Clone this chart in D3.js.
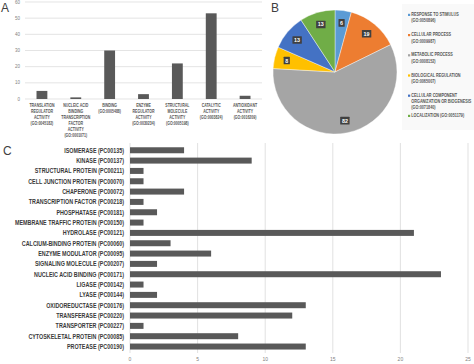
<!DOCTYPE html>
<html><head><meta charset="utf-8">
<script src="https://cdn.jsdelivr.net/npm/d3@7"></script>
<style>
html,body{margin:0;padding:0;background:#fff;}
svg{display:block;}
text{font-family:'Liberation Sans',Arial,sans-serif;}
</style></head><body>
<svg id="chart" width="474" height="364"></svg>
<script>
// ---- Panel A data ----
const goCategories = [
  "TRANSLATION\nREGULATOR\nACTIVITY\n(GO:0045182)",
  "NUCLEIC ACID\nBINDING\nTRANSCRIPTION\nFACTOR\nACTIVITY\n(GO:0001071)",
  "BINDING\n(GO:0005488)",
  "ENZYME\nREGULATOR\nACTIVITY\n(GO:0030234)",
  "STRUCTURAL\nMOLECULE\nACTIVITY\n(GO:0005198)",
  "CATALYTIC\nACTIVITY\n(GO:0003824)",
  "ANTIOXIDANT\nACTIVITY\n(GO:0016209)"
];
const goValues = [5, 1, 30, 3, 22, 53, 2];
const goTicks = [0, 10, 20, 30, 40, 50, 60];

// ---- Panel B data ----
const bpLabels = [
  "RESPONSE TO STIMULUS\n(GO:0050896)",
  "CELLULAR PROCESS\n(GO:0009987)",
  "METABOLIC PROCESS\n(GO:0008152)",
  "BIOLOGICAL REGULATION\n(GO:0065007)",
  "CELLULAR COMPONENT\nORGANIZATION OR BIOGENESIS\n(GO:0071840)",
  "LOCALIZATION (GO:0051179)"
];
const bpValues = [6, 19, 82, 8, 13, 13];
const bpColors = ["#5B9BD5", "#ED7D31", "#A5A5A5", "#FFC000", "#4472C4", "#70AD47"];

// ---- Panel C data ----
const pcCategories = [
  "ISOMERASE (PC00135)", "KINASE (PC00137)", "STRUCTURAL PROTEIN (PC00211)",
  "CELL JUNCTION PROTEIN (PC00070)", "CHAPERONE (PC00072)", "TRANSCRIPTION FACTOR (PC00218)",
  "PHOSPHATASE (PC00181)", "MEMBRANE TRAFFIC PROTEIN (PC00150)", "HYDROLASE (PC00121)",
  "CALCIUM-BINDING PROTEIN (PC00060)", "ENZYME MODULATOR (PC00095)", "SIGNALING MOLECULE (PC00207)",
  "NUCLEIC ACID BINDING (PC00171)", "LIGASE (PC00142)", "LYASE (PC00144)",
  "OXIDOREDUCTASE (PC00176)", "TRANSFERASE (PC00220)", "TRANSPORTER (PC00227)",
  "CYTOSKELETAL PROTEIN (PC00085)", "PROTEASE (PC00190)"
];
const pcValues = [4, 9, 1, 1, 4, 1, 2, 1, 21, 3, 6, 2, 23, 1, 2, 13, 12, 1, 8, 13];
const pcTicks = [0, 5, 10, 15, 20, 25];

const svg = d3.select("#chart");
const barColor = "#595959";
const gridColor = "#d9d9d9";

// horizontally condense text so a reference string would have the target width
function condense(sel, refText, refWidth) {
  const probe = svg.append("text").attr("font-size", sel.attr("font-size"))
    .attr("font-weight", sel.attr("font-weight")).text(refText);
  const k = refWidth / probe.node().getComputedTextLength();
  probe.remove();
  sel.each(function () {
    const w = this.getComputedTextLength();
    d3.select(this).attr("textLength", w * k).attr("lengthAdjust", "spacingAndGlyphs");
  });
}
const panelLetter = (t, x, y) => svg.append("text").attr("x", x).attr("y", y)
  .attr("font-size", 12).attr("fill", "#404040").text(t);

// ================= Panel A =================
panelLetter("A", 1, 12);
const xA = d3.scaleBand().domain(goCategories).range([25, 262]).paddingInner(0.68).paddingOuter(0.34);
const yA = d3.scaleLinear().domain([0, 60]).range([99, 2]);
const gA = svg.append("g");
gA.selectAll("line.grid").data(goTicks).join("line")
  .attr("x1", 25).attr("x2", 262).attr("y1", d => yA(d)).attr("y2", d => yA(d))
  .attr("stroke", gridColor).attr("stroke-width", 0.7);
gA.selectAll("text.tick").data(goTicks).join("text")
  .attr("x", 20).attr("y", d => yA(d) + 1.5).attr("text-anchor", "end")
  .attr("font-size", 4.5).attr("fill", "#7f7f7f").text(d => d);
gA.selectAll("rect").data(goValues).join("rect")
  .attr("x", (d, i) => xA(goCategories[i])).attr("width", xA.bandwidth())
  .attr("y", d => yA(d)).attr("height", d => yA(0) - yA(d))
  .attr("fill", barColor);
const aLines = [];
goCategories.forEach(c => c.split("\n").forEach((ln, j) => aLines.push({ c, ln, j })));
const aText = gA.selectAll("text.cat").data(aLines).join("text").attr("class", "cat")
  .attr("x", d => xA(d.c) + xA.bandwidth() / 2).attr("y", d => 106.5 + d.j * 6)
  .attr("text-anchor", "middle").attr("font-size", 5.1).attr("font-weight", "bold")
  .attr("fill", "#555").text(d => d.ln);
condense(aText, "TRANSCRIPTION", 29);

// ================= Panel B =================
panelLetter("B", 271, 12);
svg.append("rect").attr("x", 402).attr("y", 4).attr("width", 72).attr("height", 126).attr("fill", "#f9f9f9");
const cx = 335, cy = 72, r = 62;
const pie = d3.pie().sort(null).value(d => d)(bpValues);
const arc = d3.arc().innerRadius(0).outerRadius(r);
const labelArc = d3.arc().innerRadius(r * 0.8).outerRadius(r * 0.8);
const gB = svg.append("g").attr("transform", `translate(${cx},${cy})`);
gB.selectAll("path").data(pie).join("path").attr("d", arc)
  .attr("fill", (d, i) => bpColors[i]).attr("stroke", "#fff").attr("stroke-width", 0.4);
pie.forEach(p => {
  const [lx, ly] = labelArc.centroid(p);
  const g = gB.append("g").attr("transform", `translate(${lx},${ly})`);
  const txt = String(p.data);
  const w = txt.length * 3.2 + 3;
  g.append("rect").attr("x", -w / 2).attr("y", -3.8).attr("width", w).attr("height", 7.6)
    .attr("fill", "#404040").attr("rx", 0.5);
  g.append("text").attr("text-anchor", "middle").attr("y", 2).attr("font-size", 5.4)
    .attr("font-weight", "bold").attr("fill", "#fff").text(txt);
});
const gL = svg.append("g");
const lLines = [];
bpLabels.forEach((lab, i) => {
  const y0 = 16 + i * 20.2;
  gL.append("rect").attr("x", 408).attr("y", y0 - 2.2).attr("width", 2.2).attr("height", 2.2).attr("fill", bpColors[i]);
  lab.split("\n").forEach((ln, j) => lLines.push({ ln, y: y0 + j * 6.3 }));
});
const lText = gL.selectAll("text").data(lLines).join("text")
  .attr("x", 411.3).attr("y", d => d.y).attr("font-size", 5.1).attr("font-weight", "bold")
  .attr("fill", "#555").text(d => d.ln);
condense(lText, "ORGANIZATION OR BIOGENESIS", 60);

// ================= Panel C =================
panelLetter("C", 3, 155);
const xC = d3.scaleLinear().domain([0, 25]).range([130, 468]);
const yC = d3.scaleBand().domain(pcCategories).range([145.1, 351.7]).paddingInner(0.42).paddingOuter(0.21);
const gC = svg.append("g");
gC.selectAll("line.grid").data(pcTicks).join("line")
  .attr("x1", d => xC(d)).attr("x2", d => xC(d)).attr("y1", 143).attr("y2", 353)
  .attr("stroke", gridColor).attr("stroke-width", 0.8);
gC.selectAll("text.tick").data(pcTicks).join("text")
  .attr("x", d => xC(d)).attr("y", 361).attr("text-anchor", "middle")
  .attr("font-size", 5).attr("fill", "#7f7f7f").text(d => d);
gC.selectAll("rect").data(pcValues).join("rect")
  .attr("y", (d, i) => yC(pcCategories[i])).attr("height", yC.bandwidth())
  .attr("x", xC(0)).attr("width", d => xC(d) - xC(0)).attr("fill", barColor);
const cText = gC.selectAll("text.cat").data(pcCategories).join("text").attr("class", "cat")
  .attr("x", 124).attr("y", d => yC(d) + yC.bandwidth() / 2 + 2.3).attr("text-anchor", "end")
  .attr("font-size", 6.8).attr("font-weight", "bold").attr("fill", "#3a3a3a").text(d => d);
condense(cText, "MEMBRANE TRAFFIC PROTEIN (PC00150)", 109);
</script>
</body></html>
